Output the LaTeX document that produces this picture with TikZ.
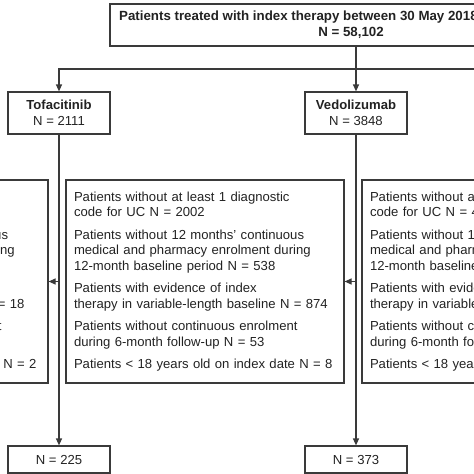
\documentclass[tikz,border=0pt]{standalone}
\usepackage{fontspec}
\setmainfont{Liberation Sans}
\usepackage{tikz}
\usetikzlibrary{arrows.meta,positioning}
\definecolor{Charcoal}{HTML}{3A3A3A}
\definecolor{Ink}{HTML}{222222}
\newcommand{\gap}{\\[6.5pt]}

\begin{document}
\begin{tikzpicture}[
  x=1pt,y=-1pt,
  every node/.style={font=\fontsize{13.1}{15.7}\selectfont,text=Ink},
  box/.style={draw=Charcoal,line width=1.2pt,minimum width=102pt,minimum height=42pt,inner sep=0pt,align=center},
  excl/.style={draw=Charcoal,line width=1.2pt,text width=262pt,minimum height=203pt,inner xsep=8pt,align=left},
  arrow/.style={-{Triangle[length=7pt,width=6pt]},line width=1.2pt,color=Charcoal}
]
\useasboundingbox (0,0) rectangle (474,474);
\clip (0,0) rectangle (474,474);

\node[box,minimum width=492pt] (index) at (356,25) {};
\node[anchor=west,inner sep=0pt,font=\fontsize{13.3}{15.7}\selectfont\bfseries] (indextitle) at (119,17) {Patients treated with index therapy between 30 May 2018};
\node[inner sep=0pt,font=\fontsize{13.3}{15.7}\selectfont\bfseries] (indexn) at (351,33) {N = 58,102};

\node[box] (tofa) at (59,113) {\textbf{Tofacitinib}\\N = 2111};
\node[box] (vedo) at (356,113) {\textbf{Vedolizumab}\\N = 3848};

% exclusions
\node[excl] (tofaexcl) at (-91,281.5) {Patients without at least 1 diagnostic\\
code for UC\gap
Patients without 12 months' continuous\\
medical and pharmacy enrolment during\\
12-month baseline period\gap
Patients with evidence of index\\
therapy in variable-length baseline N = 18\gap
Patients without continuous enrolment\\
during 6-month follow-up\gap
Patients < 18 years old on index date N = 2};
\node[excl] (vedoexcl) at (205,281.5) {Patients without at least 1 diagnostic\\
code for UC N = 2002\gap
Patients without 12 months' continuous\\
medical and pharmacy enrolment during\\
12-month baseline period N = 538\gap
Patients with evidence of index\\
therapy in variable-length baseline N = 874\gap
Patients without continuous enrolment\\
during 6-month follow-up N = 53\gap
Patients < 18 years old on index date N = 8};
\node[excl] (nextexcl) at (501,281.5) {Patients without at least 1 diagnostic\\
code for UC N = 4\gap
Patients without 12 months' continuous\\
medical and pharmacy enrolment during\\
12-month baseline period\gap
Patients with evidence of index\\
therapy in variable-length baseline\gap
Patients without continuous enrolment\\
during 6-month follow-up\gap
Patients < 18 years old on index date};

\node[box,minimum height=27pt] (tofan) at (59,459.5) {N = 225};
\node[box,minimum height=27pt] (vedon) at (356,459.5) {N = 373};

\coordinate (branch) at (480,69);
\draw[arrow] (index.south) -- (vedo.north);
\draw[arrow] (branch) -| (tofa.north);
\draw[arrow] (tofa.south) -- (tofan.north);
\draw[arrow] (vedo.south) -- (vedon.north);
\draw[arrow] (tofa.south |- tofaexcl.east) -- (tofaexcl.east);
\draw[arrow] (vedo.south |- vedoexcl.east) -- (vedoexcl.east);
\end{tikzpicture}
\end{document}
